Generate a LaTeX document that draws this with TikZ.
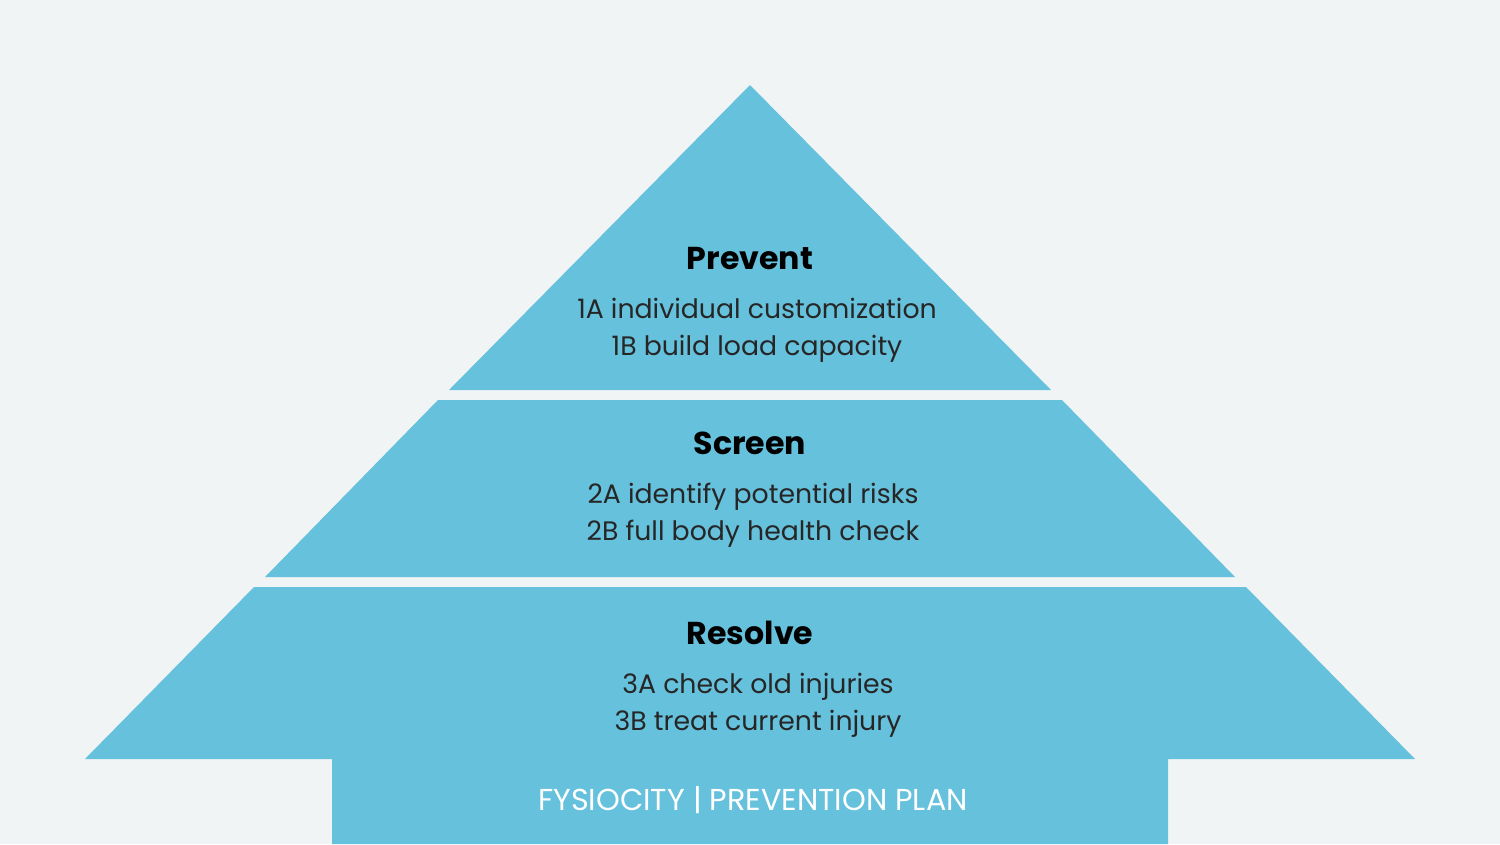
\documentclass[tikz,border=0pt]{standalone}
\usepackage{fontspec}
\setmainfont{Poppins}
\definecolor{bg}{HTML}{F1F4F5}
\definecolor{tier}{HTML}{66C1DC}
\begin{document}
\begin{tikzpicture}[x=0.01cm,y=-0.01cm,
  title/.style={font=\fontsize{9pt}{10pt}\selectfont\bfseries,text=black},
  body/.style={font=\fontsize{7.6pt}{10.6pt}\selectfont,text=black!85,align=center},
  foot/.style={font=\fontsize{8.6pt}{10pt}\selectfont,text=white}]
\fill[bg] (0,0) rectangle (1500,844);
\useasboundingbox (0,0) rectangle (1500,844);
\fill[tier] (750,85) -- (1051,390) -- (449,390) -- cycle;
\fill[tier] (438,400) -- (1062,400) -- (1235,577) -- (265,577) -- cycle;
\fill[tier] (254,587) -- (1246,587) -- (1415,759) -- (1168,759) -- (1168,844) -- (332,844) -- (332,759) -- (85,759) -- cycle;
\node[title] (t1) at (750,258) {Prevent};
\node[body] (b1) at (757,330) {1A individual customization\\1B build load capacity};
\node[title] (t2) at (750,443) {Screen};
\node[body] (b2) at (753,515) {2A identify potential risks\\2B full body health check};
\node[title] (t3) at (750,633) {Resolve};
\node[body] (b3) at (758,705) {3A check old injuries\\3B treat current injury};
\node[foot] (f) at (753,800) {FYSIOCITY | PREVENTION PLAN};
\end{tikzpicture}
\end{document}
